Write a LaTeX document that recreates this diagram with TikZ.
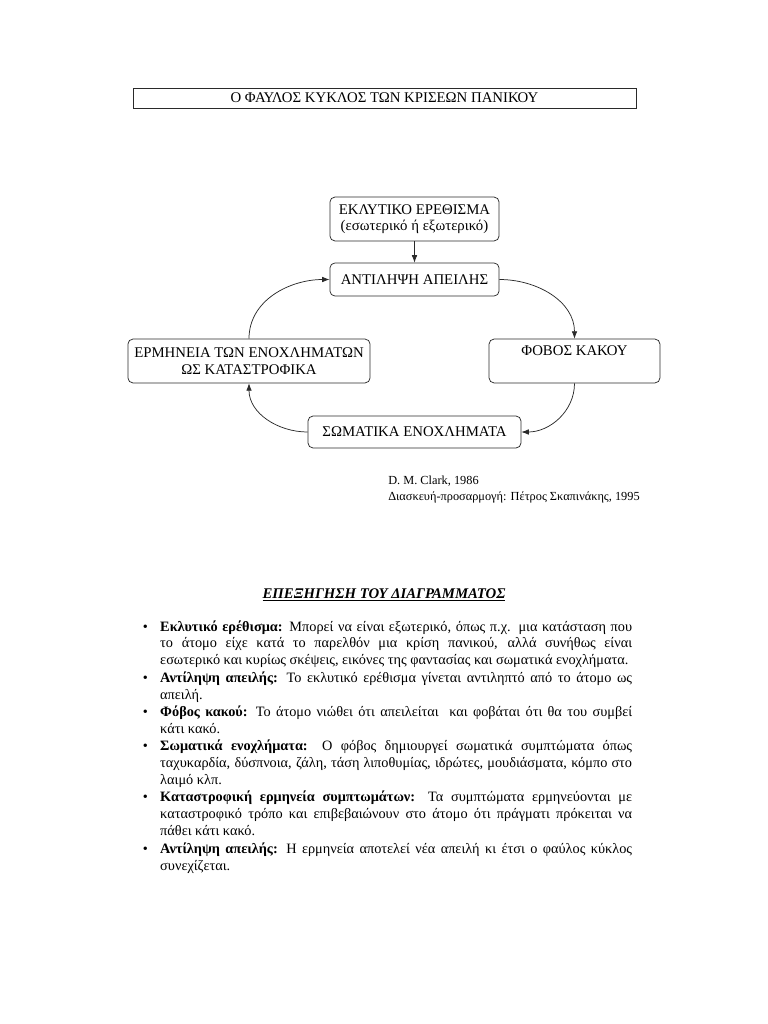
\documentclass[tikz,border=0pt]{standalone}
\usepackage{fontspec}
\setmainfont{Liberation Serif}
\usepackage{xcolor}
\usetikzlibrary{arrows.meta,positioning}
\definecolor{linecol}{HTML}{2A2A2A}

\begin{document}
\begin{tikzpicture}[x=0.0285cm, y=-0.0285cm,
  every node/.style={font=\fontsize{12}{13.5}\selectfont},
  stagebox/.style={draw=linecol, line width=0.6pt, rounded corners=4pt,
                   inner sep=0pt, align=center},
  cycarrow/.style={-{Latex[length=6pt,width=4.5pt]}, linecol, line width=0.6pt},
  itemtext/.style={anchor=north west, inner sep=0pt, text width=13.45cm,
                   align=justify, font=\fontsize{11.6}{13.7}\selectfont}]

  \useasboundingbox (0,0) rectangle (768,1024);

  \node[draw=linecol, line width=0.6pt, inner sep=0pt, minimum width=14.34cm,
        minimum height=0.57cm] (title) at (384.5,98)
        {Ο ΦΑΥΛΟΣ ΚΥΚΛΟΣ ΤΩΝ ΚΡΙΣΕΩΝ ΠΑΝΙΚΟΥ};

  % the cycle
  \node[stagebox, minimum width=4.82cm, minimum height=1.25cm] (stim) at (414.5,219)
        {ΕΚΛΥΤΙΚΟ ΕΡΕΘΙΣΜΑ\\(εσωτερικό ή εξωτερικό)};
  \node[stagebox, minimum width=4.82cm, minimum height=0.94cm] (threat) at (414.5,279.5)
        {ΑΝΤΙΛΗΨΗ ΑΠΕΙΛΗΣ};
  \node[stagebox, minimum width=4.87cm, minimum height=1.25cm] (fear) at (574.5,361)
        {ΦΟΒΟΣ ΚΑΚΟΥ\\ \strut};
  \node[stagebox, minimum width=6.90cm, minimum height=1.25cm] (interp) at (249,361)
        {ΕΡΜΗΝΕΙΑ ΤΩΝ ΕΝΟΧΛΗΜΑΤΩΝ\\ΩΣ ΚΑΤΑΣΤΡΟΦΙΚΑ};
  \node[stagebox, minimum width=6.07cm, minimum height=0.91cm] (body) at (414.5,432)
        {ΣΩΜΑΤΙΚΑ ΕΝΟΧΛΗΜΑΤΑ};

  \draw[cycarrow] (stim) -- (threat);
  \draw[cycarrow] (threat.east) to[out=0,in=90] (fear.north);
  \draw[cycarrow] (fear.south) to[out=-90,in=0] (body.east);
  \draw[cycarrow] (body.west) to[out=180,in=-90] (interp.south);
  \draw[cycarrow] (interp.north) to[out=90,in=180] (threat.west);

  \node[anchor=north west, inner sep=0pt, align=left,
        font=\fontsize{10}{12.8}\selectfont] (credit) at (388,476)
        {D. M. Clark, 1986\\Διασκευή-προσαρμογή: Πέτρος Σκαπινάκης, 1995};

  % explanation
  \node (head) at (384,595) {\textbf{\textit{\underline{ΕΠΕΞΗΓΗΣΗ ΤΟΥ ΔΙΑΓΡΑΜΜΑΤΟΣ}}}};

  \node[itemtext] (it1) at (160,619) {\strut\llap{\textbullet\hspace{10pt}}%
    \textbf{Εκλυτικό ερέθισμα:} Μπορεί να είναι εξωτερικό, όπως π.χ. μια κατάσταση που
    \linebreak το άτομο είχε κατά το παρελθόν μια κρίση πανικού, αλλά συνήθως είναι
    \linebreak εσωτερικό και κυρίως σκέψεις, εικόνες της φαντασίας και σωματικά ενοχλήματα.\strut};
  \node[itemtext] (it2) at (it1.south west) {\strut\llap{\textbullet\hspace{10pt}}%
    \textbf{Αντίληψη απειλής:} Το εκλυτικό ερέθισμα γίνεται αντιληπτό από το άτομο ως
    \linebreak απειλή.\strut};
  \node[itemtext] (it3) at (it2.south west) {\strut\llap{\textbullet\hspace{10pt}}%
    \textbf{Φόβος κακού:} Το άτομο νιώθει ότι απειλείται\ \ και φοβάται ότι θα του συμβεί
    \linebreak κάτι κακό.\strut};
  \node[itemtext] (it4) at (it3.south west) {\strut\llap{\textbullet\hspace{10pt}}%
    \textbf{Σωματικά ενοχλήματα:} Ο φόβος δημιουργεί σωματικά συμπτώματα όπως
    \linebreak ταχυκαρδία, δύσπνοια, ζάλη, τάση λιποθυμίας, ιδρώτες, μουδιάσματα, κόμπο στο
    \linebreak λαιμό κλπ.\strut};
  \node[itemtext] (it5) at (it4.south west) {\strut\llap{\textbullet\hspace{10pt}}%
    \textbf{Καταστροφική ερμηνεία συμπτωμάτων:} Τα συμπτώματα ερμηνεύονται με
    \linebreak καταστροφικό τρόπο και επιβεβαιώνουν στο άτομο ότι πράγματι πρόκειται να
    \linebreak πάθει κάτι κακό.\strut};
  \node[itemtext] (it6) at (it5.south west) {\strut\llap{\textbullet\hspace{10pt}}%
    \textbf{Αντίληψη απειλής:} Η ερμηνεία αποτελεί νέα απειλή κι έτσι ο φαύλος κύκλος
    \linebreak συνεχίζεται.\strut};
\end{tikzpicture}
\end{document}
